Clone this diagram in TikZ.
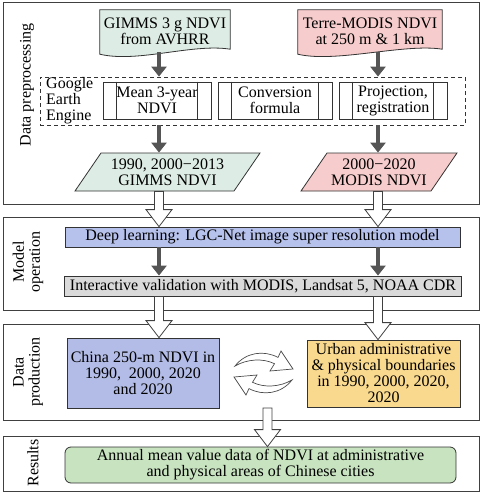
\documentclass[tikz,border=0pt]{standalone}
\usepackage{fontspec}
\setmainfont{Liberation Serif}
\usetikzlibrary{arrows.meta,shapes.geometric,calc,backgrounds}

\definecolor{gimmsfill}{RGB}{221,236,228}
\definecolor{modisfill}{RGB}{247,204,204}
\definecolor{deepfill}{RGB}{182,193,236}
\definecolor{valfill}{RGB}{218,218,218}
\definecolor{chinafill}{RGB}{178,188,230}
\definecolor{urbanfill}{RGB}{249,217,142}
\definecolor{resfill}{RGB}{200,227,192}
\definecolor{linegray}{RGB}{85,85,85}

\tikzset{
  panel/.style={draw=black!75, line width=0.9pt},
  box/.style={draw=black!80, line width=0.8pt, align=center, inner sep=1pt},
  doc/.style={align=center, inner sep=1pt, minimum width=130pt, minimum height=42pt},
  prc/.style={box, minimum height=37pt},
  para/.style={box, trapezium, trapezium left angle=48, trapezium right angle=132,
    trapezium stretches body=true, minimum height=38pt},
  darr/.style={draw=linegray, line width=4.5pt, -{Triangle[width=15pt,length=10pt]}},
  harrow/.style={draw=black!75, fill=white, line width=0.8pt,
    to path={let \p1=(\tikztostart), \p2=(\tikztotarget) in
      (\x1-4.5pt,\y1) -- (\x1-4.5pt,\y2+17pt) -- (\x1-13pt,\y2+17pt) -- (\x1,\y2)
      -- (\x1+13pt,\y2+17pt) -- (\x1+4.5pt,\y2+17pt) -- (\x1+4.5pt,\y1) -- cycle}},
  cyc/.style={fill=white, draw=black!70, line width=0.7pt},
}

\begin{document}
\begin{tikzpicture}[x=1pt,y=-1pt,font=\fontsize{16}{16}\selectfont]
\useasboundingbox (0,0) rectangle (483,493);

\draw[panel] (3,2) rectangle (479,204);
\draw[panel] (3,217) rectangle (479,310);
\draw[panel] (3,324) rectangle (479,420);
\draw[panel] (3,436) rectangle (479,491);

\node [rotate=90] (lab1) at (27,85) {Data preprocessing};
\node [rotate=90, align=center] (lab2) at (28,262) {Model\\operation};
\node [rotate=90, align=center] (lab3) at (28,372) {Data\\production};
\node [rotate=90] (lab4) at (33,463) {Results};

\coordinate (colL) at (159,0);
\coordinate (colR) at (378,0);

\node [doc] (d1) at (165,31) {GIMMS 3 g NDVI\\from AVHRR};
\node [doc, minimum width=144pt] (d2) at (370,31) {Terre-MODIS NDVI\\at 250 m \& 1 km};
\begin{scope}[on background layer]
\foreach \n/\c in {d1/gimmsfill,d2/modisfill}
  \filldraw[fill=\c, draw=black!80, line width=0.8pt] (\n.north west) -- (\n.north east)
    -- ([yshift=3pt]\n.south east) .. controls ([xshift=-38pt,yshift=9pt]\n.south east)
    and ([xshift=38pt,yshift=-11pt]\n.south west) .. ([yshift=-2pt]\n.south west) -- cycle;
\end{scope}

\node [draw=black!80, line width=0.8pt, dash pattern=on 4pt off 3pt,
  minimum width=425pt, minimum height=48pt] (gee) at (252.5,101) {};
\node [align=left, anchor=west, inner sep=0pt] (geetxt) at (46,101) {Google\\Earth\\Engine};
\node [prc, minimum width=108pt] (p1) at (157,100.5) {Mean 3-year\\NDVI};
\node [prc, minimum width=114pt] (p2) at (275,100.5) {Conversion\\formula};
\node [prc, minimum width=108pt] (p3) at (393,100.5) {Projection,\\registration};
\foreach \n in {p1,p2,p3}
  \draw[draw=black!80, line width=0.8pt] ([xshift=14pt]\n.north west) -- ([xshift=14pt]\n.south west)
    ([xshift=-14pt]\n.north east) -- ([xshift=-14pt]\n.south east);

\node [para, fill=gimmsfill, minimum width=185pt] (g2) at (167.5,172) {1990, 2000−2013\\GIMMS NDVI};
\node [para, fill=modisfill, minimum width=156pt] (m2) at (379,172) {2000−2020\\MODIS NDVI};

\draw[darr] (d1.south -| colL) -- (gee.north -| colL);
\draw[darr] (d2.south -| colR) -- (gee.north -| colR);
\draw[darr] (gee.south -| colL) -- (g2.north -| colL);
\draw[darr] (gee.south -| colR) -- (m2.north -| colR);

\node [box, fill=deepfill, minimum width=395pt, minimum height=20pt] (dl) at (262.5,237)
  {Deep learning: LGC-Net image super resolution model};
\node [box, fill=valfill, minimum width=397pt, minimum height=20pt] (iv) at (263,286)
  {Interactive validation with MODIS, Landsat 5, NOAA CDR};
\draw[darr] (dl.south -| colL) -- (iv.north -| colL);
\draw[darr] (dl.south -| colR) -- (iv.north -| colR);

\node [box, fill=chinafill, minimum width=152pt, minimum height=70pt] (cn) at (143,373)
  {China 250-m NDVI in\\1990,\ \ 2000, 2020\\and 2020};
\node [box, fill=urbanfill, minimum width=153pt, minimum height=67pt] (ub) at (383.5,373.5)
  {Urban administrative\\\& physical boundaries\\in 1990, 2000, 2020,\\2020};

\filldraw[cyc] (235,366) .. controls (246,352) and (264,350) .. (278,357.4)
  -- (281,351) -- (293,369) -- (270,371) -- (274.5,363.7) .. controls (263,358) and (247,359) .. (235,366) -- cycle;
\filldraw[cyc, rotate around={180:(263.5,373)}] (235,366) .. controls (246,352) and (264,350) .. (278,357.4)
  -- (281,351) -- (293,369) -- (270,371) -- (274.5,363.7) .. controls (263,358) and (247,359) .. (235,366) -- cycle;

\node [box, rounded corners=6pt, fill=resfill, minimum width=391pt, minimum height=36pt] (res) at (260.5,465)
  {Annual mean value data of NDVI at administrative\\and physical areas of Chinese cities};

\draw[harrow] (g2.south -| colL) to (dl.north -| colL);
\draw[harrow] (m2.south -| colR) to (dl.north -| colR);
\draw[harrow] (iv.south -| colL) to (cn.north -| colL);
\draw[harrow] (iv.south -| colR) to (ub.north -| colR);
\coordinate (mid) at (267.5,408);
\draw[harrow] (mid) to (res.north -| mid);

\end{tikzpicture}
\end{document}
